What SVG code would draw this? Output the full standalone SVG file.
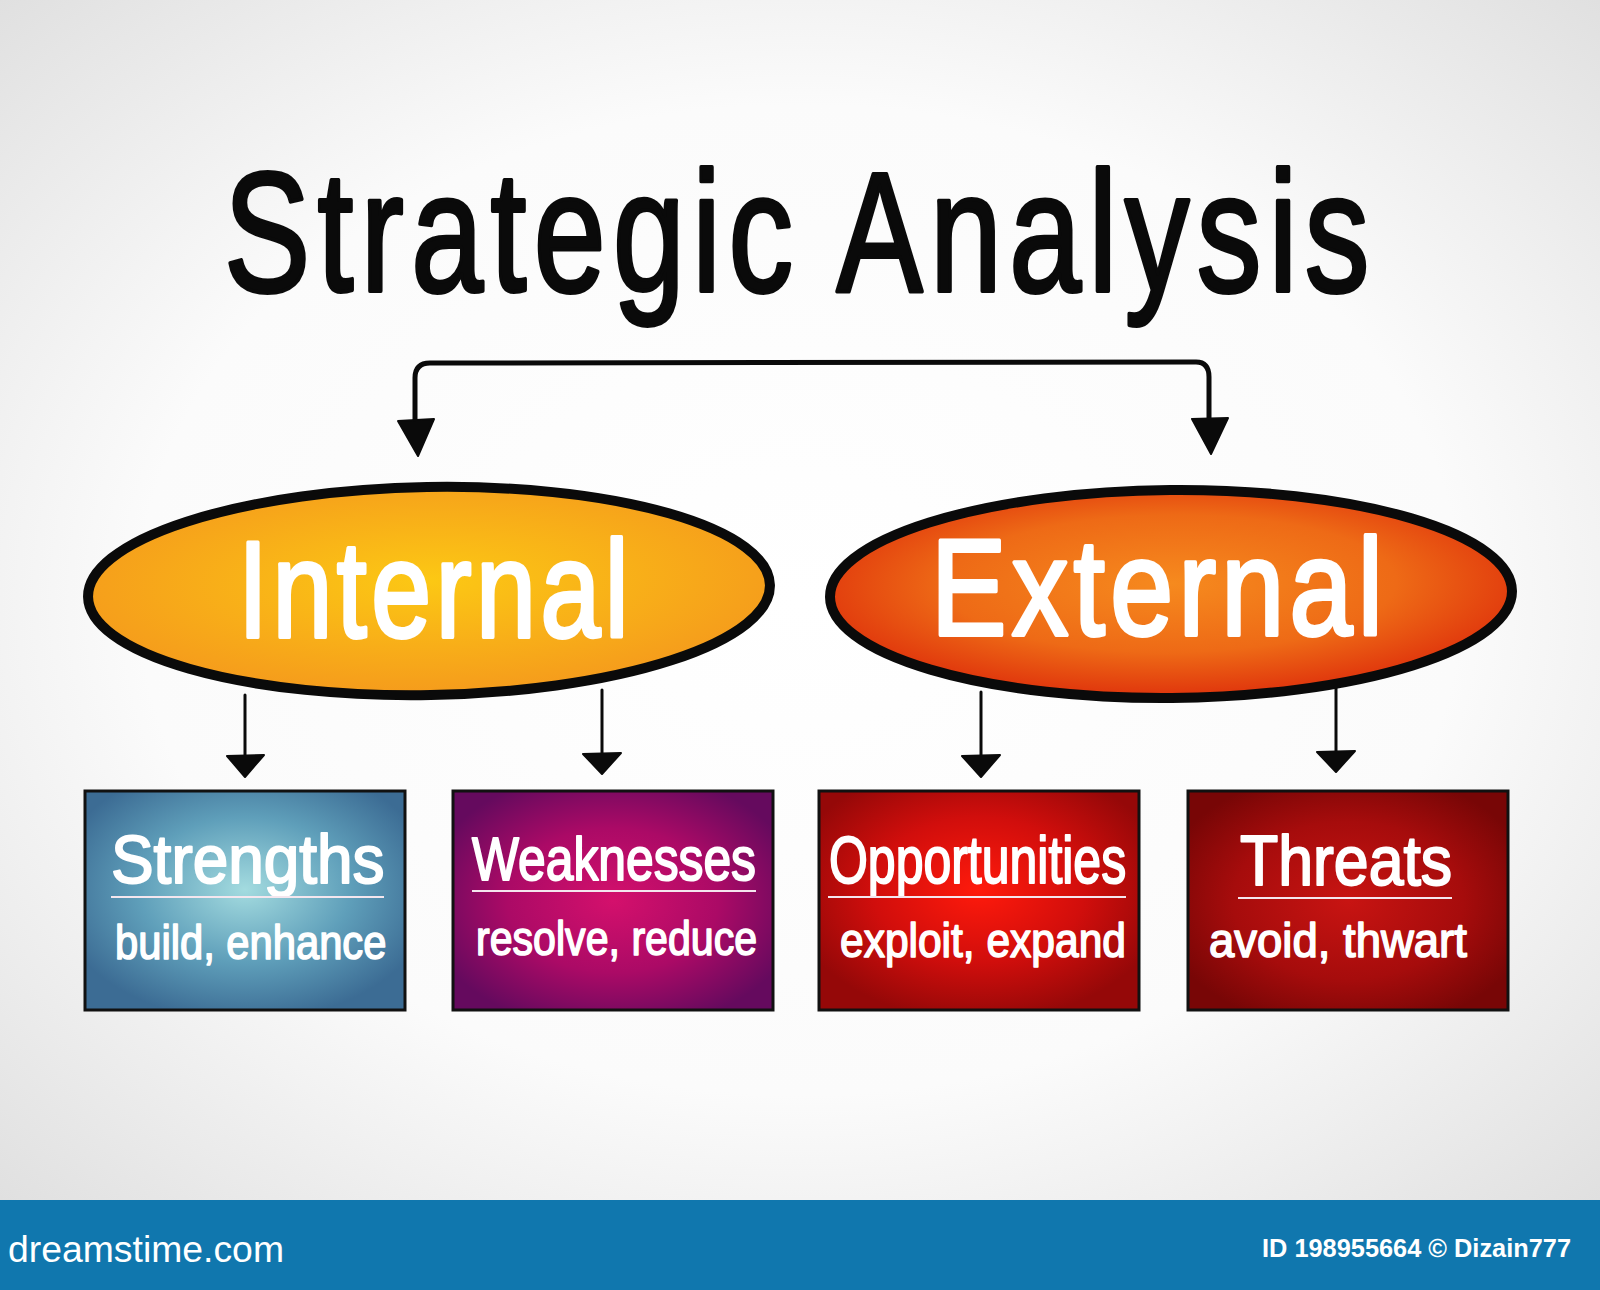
<svg xmlns="http://www.w3.org/2000/svg" width="1600" height="1290" viewBox="0 0 1600 1290">
<defs>
<radialGradient id="bg" cx="50%" cy="50%" r="75%">
<stop offset="0" stop-color="#ffffff"/>
<stop offset="0.55" stop-color="#fbfbfb"/>
<stop offset="1" stop-color="#dcdcdc"/>
</radialGradient>
<radialGradient id="gInt" cx="50%" cy="45%" r="55%">
<stop offset="0" stop-color="#fcc814"/>
<stop offset="1" stop-color="#f59b1c"/>
</radialGradient>
<radialGradient id="gExt" cx="50%" cy="45%" r="55%">
<stop offset="0" stop-color="#f68a1e"/>
<stop offset="0.6" stop-color="#ee6a16"/>
<stop offset="1" stop-color="#df330c"/>
</radialGradient>
<radialGradient id="gS" cx="50%" cy="45%" r="60%">
<stop offset="0" stop-color="#a3dbdf"/>
<stop offset="0.55" stop-color="#5f9fba"/>
<stop offset="1" stop-color="#3c6c94"/>
</radialGradient>
<radialGradient id="gW" cx="50%" cy="50%" r="60%">
<stop offset="0" stop-color="#d4106c"/>
<stop offset="0.55" stop-color="#ab0a66"/>
<stop offset="1" stop-color="#650a5e"/>
</radialGradient>
<radialGradient id="gO" cx="50%" cy="45%" r="60%">
<stop offset="0" stop-color="#ff1a0c"/>
<stop offset="0.55" stop-color="#d10e0c"/>
<stop offset="1" stop-color="#950808"/>
</radialGradient>
<radialGradient id="gT" cx="50%" cy="50%" r="60%">
<stop offset="0" stop-color="#c81412"/>
<stop offset="0.6" stop-color="#a60c0c"/>
<stop offset="1" stop-color="#780606"/>
</radialGradient>
</defs>
<style>
.hand{font-family:"Liberation Sans","DejaVu Sans",sans-serif;stroke-linejoin:round;}
.title{font-size:170px;fill:#0a0a0a;stroke:#0a0a0a;stroke-width:4;}
.oval{stroke:#0a0a0a;stroke-width:10;}
.ovtxt{font-size:138px;fill:#ffffff;stroke:#ffffff;stroke-width:4;}
.box{stroke:#111;stroke-width:3;}
.bt{fill:#ffffff;stroke:#ffffff;stroke-width:2;}
.bs{font-size:48px;fill:#ffffff;stroke:#ffffff;stroke-width:1.6;}
.ul{stroke:#f4e6ee;stroke-width:2;}
.wire{fill:none;stroke:#0a0a0a;stroke-linecap:round;stroke-linejoin:round;}
.head{fill:#0a0a0a;stroke:#0a0a0a;stroke-width:2;stroke-linejoin:round;}
.foot{font-family:"Liberation Sans","DejaVu Sans",sans-serif;fill:#ffffff;}
</style>
<rect x="0" y="0" width="1600" height="1200" fill="url(#bg)"/>

<g id="title">
<text class="hand title" transform="translate(224 291) scale(0.76 1)" x="0" y="0" textLength="1507" lengthAdjust="spacing">Strategic Analysis</text>
</g>

<g id="connectors">
<path class="wire" stroke-width="5" d="M415,422 L415,378 Q415,363 430,363 L1196,362 Q1209,362 1209,377 L1209,420"/>
<polygon class="head" points="398,421 434,419 418,456"/>
<polygon class="head" points="1192,419 1228,418 1211,454"/>
<path class="wire" stroke-width="3" d="M245,695 L245,757"/>
<polygon class="head" points="227,756 264,755 245,777"/>
<path class="wire" stroke-width="3" d="M602,690 L602,755"/>
<polygon class="head" points="583,754 621,753 602,774"/>
<path class="wire" stroke-width="3" d="M981,692 L981,757"/>
<polygon class="head" points="962,756 1000,755 981,777"/>
<path class="wire" stroke-width="3" d="M1336,688 L1336,753"/>
<polygon class="head" points="1317,752 1355,751 1336,772"/>
</g>

<g id="internal">
<ellipse class="oval" cx="429" cy="591" rx="341" ry="104" fill="url(#gInt)" transform="rotate(-1 429 591)"/>
<text class="hand ovtxt" transform="translate(238 637) scale(0.78 1)" x="0" y="0" textLength="501" lengthAdjust="spacing">Internal</text>
</g>

<g id="external">
<ellipse class="oval" cx="1171" cy="594" rx="341" ry="104" fill="url(#gExt)" transform="rotate(-0.5 1171 594)"/>
<text class="hand ovtxt" transform="translate(931 635) scale(0.82 1)" x="0" y="0" textLength="551" lengthAdjust="spacing">External</text>
</g>

<g id="strengths">
<rect class="box" x="85" y="791" width="320" height="219" fill="url(#gS)"/>
<text class="hand bt" font-size="68" transform="translate(111 883) scale(0.94 1)" x="0" y="0" textLength="291" lengthAdjust="spacingAndGlyphs">Strengths</text>
<line class="ul" x1="111" y1="897" x2="384" y2="897"/>
<text class="hand bs" transform="translate(115 959) scale(0.87 1)" x="0" y="0" textLength="312" lengthAdjust="spacingAndGlyphs">build, enhance</text>
</g>

<g id="weaknesses">
<rect class="box" x="453" y="791" width="320" height="219" fill="url(#gW)"/>
<text class="hand bt" font-size="62" transform="translate(472 880) scale(0.8 1)" x="0" y="0" textLength="355" lengthAdjust="spacingAndGlyphs">Weaknesses</text>
<line class="ul" x1="472" y1="891" x2="756" y2="891"/>
<text class="hand bs" transform="translate(476 955) scale(0.857 1)" x="0" y="0" textLength="328" lengthAdjust="spacingAndGlyphs">resolve, reduce</text>
</g>

<g id="opportunities">
<rect class="box" x="819" y="791" width="320" height="219" fill="url(#gO)"/>
<text class="hand bt" font-size="66" transform="translate(829 883) scale(0.758 1)" x="0" y="0" textLength="392" lengthAdjust="spacingAndGlyphs">Opportunities</text>
<line class="ul" x1="828" y1="897" x2="1126" y2="897"/>
<text class="hand bs" transform="translate(840 957) scale(0.888 1)" x="0" y="0" textLength="322" lengthAdjust="spacingAndGlyphs">exploit, expand</text>
</g>

<g id="threats">
<rect class="box" x="1188" y="791" width="320" height="219" fill="url(#gT)"/>
<text class="hand bt" font-size="70" transform="translate(1240 885) scale(0.895 1)" x="0" y="0" textLength="237" lengthAdjust="spacingAndGlyphs">Threats</text>
<line class="ul" x1="1238" y1="898" x2="1452" y2="898"/>
<text class="hand bs" transform="translate(1209 957) scale(0.948 1)" x="0" y="0" textLength="272" lengthAdjust="spacingAndGlyphs">avoid, thwart</text>
</g>

<g id="footer">
<rect x="0" y="1200" width="1600" height="90" fill="#1077ae"/>
<text class="foot" x="8" y="1262" font-size="36" textLength="276" lengthAdjust="spacingAndGlyphs">dreamstime.com</text>
<text class="foot" x="1262" y="1257" font-size="25" font-weight="700" textLength="309" lengthAdjust="spacingAndGlyphs">ID 198955664 © Dizain777</text>
</g>
</svg>
